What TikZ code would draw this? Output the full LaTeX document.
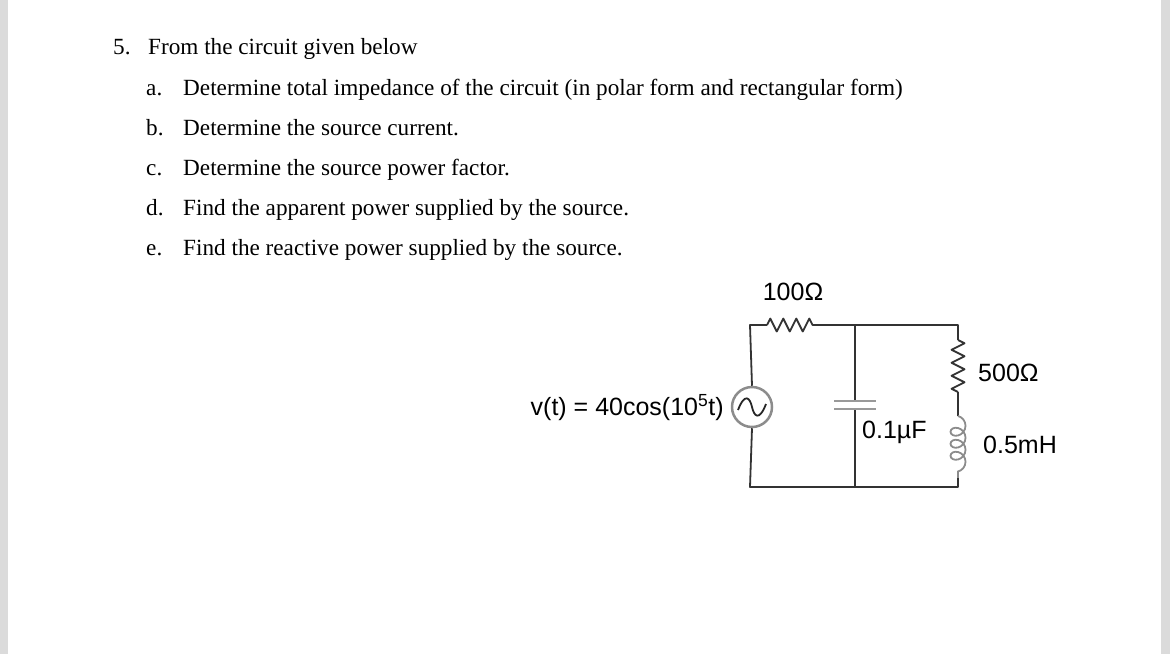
\documentclass[tikz,border=0pt]{standalone}
\usepackage{fontspec}
\setmainfont{Liberation Serif}
\newfontfamily\lsans{Liberation Sans}
\usetikzlibrary{decorations.pathmorphing}
\begin{document}
\begin{tikzpicture}[x=1pt,y=-1pt,
  q/.style={anchor=base west,inner sep=0,font=\fontsize{23.2}{26}\selectfont},
  lab/.style={inner sep=0,font=\lsans\fontsize{25}{28}\selectfont},
  w/.style={line width=1.8pt,draw=black!80,line join=round},
  res/.style={w,decorate,decoration={zigzag,segment length=13,amplitude=6.5}},
  ind/.style={line width=1.8pt,draw=black!45,decorate,decoration={coil,aspect=0.9,segment length=12,amplitude=7.5}}]
\useasboundingbox (0,0) rectangle (1170,654);
\fill[black!14] (0,0) rectangle (8,654);
\fill[black!14] (1161,0) rectangle (1170,654);
% question text
\node[q] (n5) at (113,54) {5.};
\node[q] (t5) at (148,54) {From the circuit given below};
\node[q] (la) at (146,95) {a.};
\node[q] (ta) at (183,95) {Determine total impedance of the circuit (in polar form and rectangular form)};
\node[q] (lb) at (146,135) {b.};
\node[q] (tb) at (183,135) {Determine the source current.};
\node[q] (lc) at (146,175) {c.};
\node[q] (tc) at (183,175) {Determine the source power factor.};
\node[q] (ld) at (146,215) {d.};
\node[q] (td) at (183,215) {Find the apparent power supplied by the source.};
\node[q] (le) at (146,255) {e.};
\node[q] (te) at (183,255) {Find the reactive power supplied by the source.};
% circuit coordinates
\coordinate (tl) at (750,325);
\coordinate (r1a) at (767,325);
\coordinate (r1b) at (817,325);
\coordinate (tm) at (855,325);
\coordinate (tr) at (958,325);
\coordinate (r2a) at (958,340);
\coordinate (r2b) at (958,392);
\coordinate (l1a) at (958,416);
\coordinate (l1b) at (958,478);
\coordinate (br) at (958,487);
\coordinate (bm) at (855,487);
\coordinate (bl) at (750,487);
\coordinate (c1) at (855,401);
\coordinate (c2) at (855,409);
\node[circle,draw=black!45,line width=2.5pt,minimum size=40pt,inner sep=0] (src) at (752,407) {};
\draw[line width=1.8pt,draw=black!85] (738,410) .. controls (745,392) and (750,398) .. (752,407) .. controls (754,416) and (759,422) .. (766,404);
% wires
\draw[w] (src.north) -- (tl) -- (r1a);
\draw[res] (r1a) -- (r1b);
\draw[w] (r1b) -- (tm) -- (tr) -- (r2a);
\draw[res] (r2a) -- (r2b);
\draw[w] (r2b) -- (l1a);
\draw[ind] (l1a) -- (l1b);
\draw[w] (l1b) -- (br) -- (bm) -- (bl) -- (src.south);
\draw[w] (tm) -- (c1);
\draw[w] (c2) -- (bm);
\draw[line width=1.8pt,draw=black!40] (834,401) -- (876,401) (834,409) -- (876,409);
% labels
\node[lab] (l100) at (793,292) {100Ω};
\node[lab,anchor=west] (l500) at (978,373) {500Ω};
\node[lab,anchor=west] (lL) at (983,445) {0.5mH};
\node[lab,anchor=west] (lC) at (862,432) {0.1µF};
\node[lab,anchor=east] (lv) at (728,408) {v(t) = 40cos(10\textsuperscript{5}t)\,};
\end{tikzpicture}
\end{document}
